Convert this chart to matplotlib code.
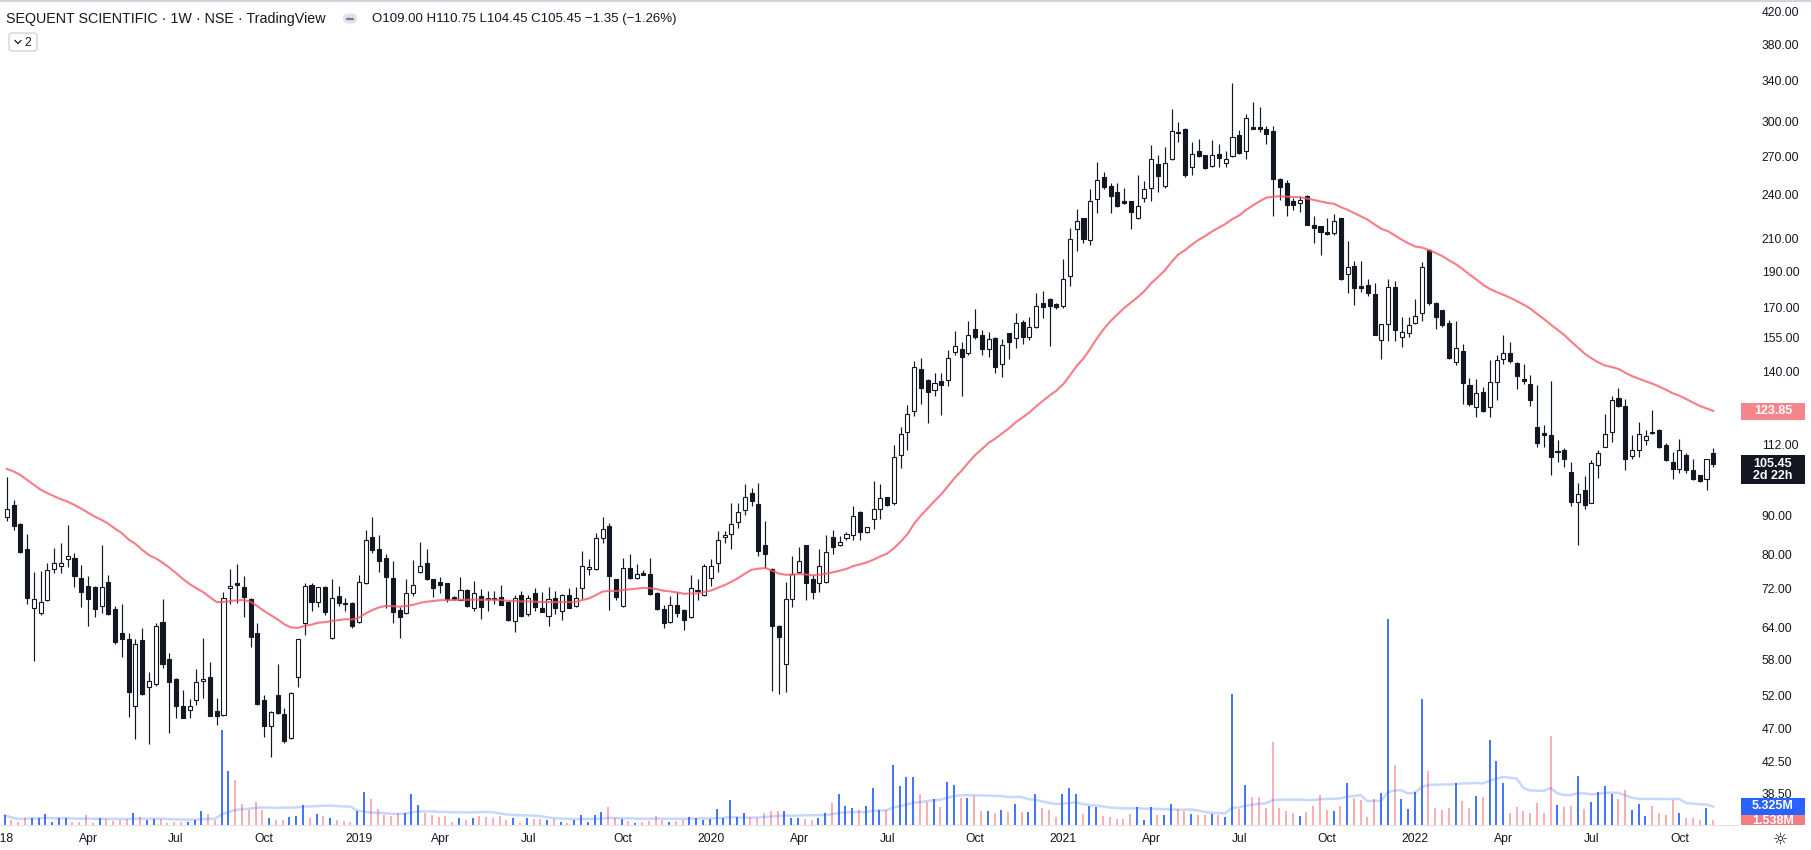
import numpy as np
import pandas as pd
import matplotlib
matplotlib.use('Agg')
import matplotlib.pyplot as plt
from matplotlib.patches import FancyBboxPatch, Rectangle
from matplotlib.ticker import NullLocator

plt.rcParams['font.family'] = ['Liberation Sans', 'DejaVu Sans']

# SEQUENT SCIENTIFIC, weekly bars (NSE), first bar = week of 1 Jan 2018
first_week = '2018-01-01'

opens = [89.7, 93.1, 87.9, 81.4, 67.9, 66.8, 69.5, 76.4, 77.2, 78.9,
         79.2, 74.4, 72.7, 72.4, 68.3, 73.6, 67.7, 62.9, 61.7, 50.4,
         61.6, 53.3, 53.8, 65.1, 58.1, 54.6, 50.3, 49.7, 51.3, 54.4,
         55.0, 49.6, 49.0, 72.2, 73.3, 72.4, 69.7, 62.9, 51.3, 47.4,
         52.1, 49.2, 45.6, 55.0, 64.8, 72.9, 69.2, 72.5, 61.9, 70.4,
         69.0, 69.0, 65.0, 73.3, 84.3, 81.4, 79.0, 74.4, 67.5, 66.8,
         71.2, 75.7, 77.8, 74.1, 73.6, 73.2, 70.3, 69.6, 71.7, 67.9,
         70.4, 70.1, 70.1, 70.2, 69.1, 65.3, 70.7, 66.7, 71.2, 67.9,
         66.2, 70.1, 67.3, 70.7, 68.4, 72.2, 76.4, 76.4, 84.0, 87.2,
         74.1, 68.3, 76.8, 74.4, 75.5, 75.3, 71.2, 67.6, 65.1, 68.5,
         67.4, 66.0, 71.6, 70.7, 74.4, 78.0, 84.3, 85.1, 88.4, 91.5,
         96.4, 93.4, 82.4, 76.4, 64.2, 57.2, 69.9, 75.8, 82.2, 74.1,
         73.2, 73.6, 84.3, 82.2, 84.0, 84.8, 91.0, 85.6, 89.1, 91.8,
         95.2, 93.7, 108.5, 116.3, 123.8, 141.1, 136.2, 132.1, 135.8, 136.2,
         148.6, 150.0, 147.8, 159.0, 156.5, 149.6, 155.1, 143.0, 157.1, 155.1,
         162.6, 155.6, 160.0, 172.5, 174.6, 172.0, 171.0, 187.2, 215.9, 223.3,
         209.1, 237.2, 253.1, 246.3, 241.7, 235.3, 235.3, 223.3, 237.9, 244.8,
         263.3, 246.3, 267.6, 291.0, 293.4, 261.3, 274.3, 270.7, 262.0, 271.6,
         264.4, 269.8, 288.0, 274.3, 294.8, 294.8, 293.4, 291.6, 252.0, 248.6,
         235.3, 233.8, 239.3, 218.8, 218.1, 214.1, 213.5, 223.3, 188.5, 192.9,
         181.7, 182.3, 177.1, 154.1, 161.7, 181.2, 155.2, 157.1, 162.1, 167.1,
         202.5, 172.5, 168.6, 162.1, 144.0, 149.0, 134.1, 125.4, 131.3, 125.4,
         135.4, 145.1, 148.2, 143.4, 136.6, 134.5, 118.0, 115.8, 115.1, 109.5,
         109.9, 102.8, 94.0, 97.3, 93.7, 105.1, 111.2, 116.3, 128.8, 126.0,
         107.9, 110.2, 113.3, 116.2, 116.9, 111.6, 106.2, 103.9, 108.5, 103.5,
         101.8, 100.6, 109.00]

highs = [101.2, 94.4, 88.0, 85.1, 75.8, 76.1, 77.8, 81.5, 82.8, 87.5,
         80.4, 77.4, 74.8, 72.6, 82.2, 75.2, 68.4, 68.7, 62.9, 61.7,
         63.9, 55.8, 64.8, 69.9, 59.1, 54.8, 52.8, 51.4, 56.4, 62.0,
         57.6, 51.6, 71.3, 76.4, 77.7, 74.8, 70.0, 64.8, 52.1, 49.6,
         57.3, 50.0, 52.5, 61.8, 73.3, 73.3, 72.4, 72.7, 74.1, 72.7,
         70.1, 69.2, 75.2, 86.2, 89.6, 84.8, 80.0, 78.5, 68.1, 74.2,
         78.6, 83.2, 81.2, 74.3, 74.6, 73.4, 70.5, 74.6, 71.9, 73.7,
         71.9, 71.5, 71.5, 72.8, 69.3, 70.7, 71.5, 70.7, 72.1, 71.3,
         72.5, 71.5, 70.9, 72.1, 72.5, 80.9, 78.8, 85.5, 89.6, 88.0,
         74.3, 79.2, 80.0, 77.6, 76.2, 79.0, 71.4, 68.5, 70.4, 71.3,
         67.6, 75.1, 74.1, 77.6, 78.8, 86.0, 86.0, 93.7, 93.7, 99.1,
         97.9, 99.4, 88.7, 76.8, 64.4, 73.6, 79.7, 81.7, 82.4, 75.1,
         81.2, 85.0, 86.1, 84.5, 85.6, 92.6, 91.2, 87.0, 100.0, 99.1,
         95.4, 111.6, 117.9, 126.2, 144.3, 145.8, 136.6, 139.1, 139.1, 149.2,
         158.2, 153.0, 163.1, 169.1, 158.7, 157.6, 155.3, 154.6, 157.3, 167.1,
         163.7, 165.3, 177.6, 179.0, 175.0, 172.3, 197.3, 216.9, 230.0, 223.8,
         244.0, 265.2, 257.0, 248.6, 248.6, 244.7, 235.6, 254.7, 250.4, 279.0,
         270.7, 277.6, 311.6, 299.4, 294.0, 281.8, 284.5, 271.0, 283.6, 280.1,
         274.0, 337.2, 292.5, 306.8, 318.3, 313.6, 295.7, 295.7, 252.3, 251.4,
         237.9, 239.3, 239.6, 225.1, 218.4, 223.8, 226.4, 223.6, 208.3, 195.9,
         195.9, 185.3, 183.1, 161.9, 185.3, 184.2, 165.3, 165.3, 174.6, 195.2,
         203.2, 172.8, 169.0, 163.7, 163.2, 152.1, 136.9, 136.6, 133.4, 144.9,
         147.1, 156.4, 153.0, 143.9, 143.0, 138.3, 134.1, 118.7, 135.7, 113.3,
         110.6, 106.0, 99.4, 101.5, 106.6, 109.9, 123.0, 129.6, 132.9, 128.4,
         115.1, 119.8, 116.9, 124.2, 117.3, 112.4, 109.3, 113.7, 108.9, 107.0,
         102.0, 107.2, 110.75]

lows = [88.6, 86.2, 80.3, 68.7, 57.8, 66.5, 69.3, 75.6, 75.6, 77.0,
        72.5, 68.2, 64.3, 66.1, 66.9, 66.4, 60.9, 58.4, 48.7, 45.5,
        52.0, 44.8, 53.5, 56.5, 46.4, 48.6, 48.5, 48.5, 50.5, 51.6,
        48.8, 47.5, 48.9, 68.7, 68.9, 66.0, 60.3, 50.5, 45.8, 43.1,
        49.2, 44.9, 45.5, 53.4, 62.5, 67.3, 68.2, 66.4, 61.7, 68.4,
        67.3, 63.9, 64.8, 73.1, 80.4, 75.7, 68.0, 64.9, 62.0, 66.6,
        70.5, 75.6, 74.0, 70.3, 71.0, 69.2, 69.5, 69.5, 68.2, 67.2,
        65.7, 67.3, 68.7, 68.5, 65.3, 63.2, 66.1, 66.3, 67.3, 67.0,
        64.3, 66.7, 65.5, 67.9, 68.2, 69.9, 75.2, 76.2, 82.7, 67.5,
        69.5, 68.1, 74.2, 74.3, 75.1, 70.7, 67.4, 63.9, 64.9, 66.1,
        63.4, 65.8, 69.5, 70.4, 72.7, 75.8, 82.7, 81.3, 86.7, 90.1,
        92.6, 79.5, 76.8, 52.7, 52.2, 52.5, 68.1, 75.6, 69.5, 69.9,
        71.4, 73.4, 80.2, 82.0, 83.5, 83.5, 83.7, 85.5, 86.4, 89.1,
        92.7, 92.9, 104.1, 110.2, 122.2, 126.7, 119.4, 129.6, 122.6, 133.7,
        147.3, 129.6, 147.3, 154.6, 147.3, 146.0, 139.1, 137.4, 145.1, 150.2,
        152.1, 153.9, 159.8, 164.6, 151.3, 169.1, 169.7, 181.7, 202.0, 207.0,
        205.9, 226.9, 244.0, 226.9, 231.2, 233.5, 215.9, 223.0, 234.5, 235.7,
        241.7, 244.7, 266.9, 281.8, 253.4, 255.1, 269.5, 259.8, 261.3, 261.3,
        261.3, 269.5, 271.6, 267.4, 293.0, 290.7, 280.1, 225.1, 236.5, 225.1,
        228.8, 227.3, 218.5, 207.0, 199.7, 212.2, 212.2, 184.8, 177.6, 171.6,
        178.2, 176.1, 156.2, 145.1, 153.6, 153.6, 150.7, 155.6, 161.9, 163.2,
        171.6, 159.3, 160.3, 145.1, 142.7, 126.7, 126.0, 121.6, 123.6, 121.6,
        128.2, 143.0, 143.4, 132.5, 134.5, 126.0, 110.9, 110.9, 101.8, 106.2,
        104.5, 92.6, 82.4, 91.8, 93.5, 100.9, 110.9, 112.6, 125.4, 103.5,
        107.0, 107.6, 111.6, 115.5, 110.8, 106.4, 100.6, 102.5, 102.5, 100.3,
        99.7, 97.3, 104.45]

closes = [91.8, 87.3, 80.6, 70.1, 69.9, 69.1, 76.2, 78.0, 78.0, 79.7,
          74.8, 71.4, 69.8, 67.8, 72.4, 66.6, 61.3, 61.7, 52.5, 60.9,
          52.2, 54.3, 64.3, 57.3, 54.2, 50.3, 48.6, 50.4, 54.1, 54.6,
          48.9, 48.8, 70.1, 72.7, 72.9, 70.3, 62.1, 50.7, 47.4, 49.5,
          49.3, 45.3, 52.4, 61.7, 72.6, 69.2, 72.3, 67.1, 70.1, 68.9,
          68.8, 64.3, 73.6, 83.5, 81.1, 78.5, 74.6, 67.0, 66.1, 71.2,
          72.8, 77.3, 74.2, 72.2, 72.9, 69.8, 69.8, 71.7, 68.4, 71.2,
          68.2, 69.7, 69.8, 68.6, 65.5, 70.1, 66.3, 70.1, 68.2, 67.1,
          69.9, 68.0, 70.7, 68.0, 70.1, 77.3, 77.0, 84.0, 86.4, 74.8,
          70.3, 76.8, 74.4, 75.3, 75.2, 70.9, 67.6, 64.9, 68.5, 66.8,
          65.5, 72.2, 71.8, 77.3, 77.3, 83.7, 84.8, 87.7, 91.0, 95.2,
          94.3, 80.9, 80.2, 64.2, 62.1, 69.9, 75.3, 78.5, 73.2, 71.4,
          77.3, 80.7, 81.7, 83.2, 85.1, 89.9, 85.6, 86.9, 91.8, 94.9,
          92.9, 107.6, 115.4, 123.0, 142.0, 132.9, 131.3, 134.9, 134.1, 145.8,
          151.3, 146.4, 156.4, 155.6, 149.6, 154.6, 142.0, 151.7, 152.9, 162.1,
          155.6, 160.0, 170.6, 170.1, 171.0, 170.1, 185.5, 209.8, 221.4, 209.5,
          235.3, 250.7, 245.4, 238.8, 231.9, 233.8, 227.6, 232.1, 244.0, 267.4,
          254.3, 264.4, 291.6, 289.8, 255.1, 271.6, 269.8, 260.5, 270.7, 268.2,
          267.6, 286.2, 272.7, 303.1, 293.6, 293.0, 289.1, 252.0, 245.4, 232.7,
          232.7, 236.0, 218.8, 216.8, 214.1, 212.9, 221.4, 185.3, 192.4, 180.6,
          180.6, 177.6, 156.4, 161.7, 181.2, 158.7, 157.6, 161.2, 165.8, 192.4,
          172.5, 165.3, 161.2, 145.8, 150.2, 134.9, 126.7, 130.8, 123.8, 135.4,
          144.9, 148.2, 144.4, 137.8, 136.0, 128.1, 112.4, 115.1, 107.6, 109.7,
          106.9, 94.0, 96.1, 92.9, 105.6, 108.9, 115.4, 128.1, 125.7, 107.2,
          110.2, 115.4, 114.7, 115.8, 110.9, 106.6, 103.7, 109.9, 103.5, 100.6,
          100.0, 107.0, 105.45]

# weekly volume, millions of shares
volumes = [2.8, 1.4, 0.9, 2.1, 2.0, 1.9, 3.1, 0.9, 2.0, 2.0,
           0.9, 0.9, 2.8, 0.7, 2.0, 1.6, 1.1, 1.4, 1.6, 3.5,
           2.3, 1.4, 1.6, 1.6, 0.7, 0.9, 0.9, 0.9, 1.4, 3.9,
           3.1, 1.4, 26.6, 15.1, 12.6, 5.9, 4.2, 6.4, 4.2, 2.1,
           1.4, 1.4, 2.3, 2.6, 5.6, 2.0, 3.0, 2.5, 2.1, 1.4,
           1.1, 0.9, 3.9, 9.3, 7.2, 4.4, 2.8, 2.6, 3.5, 3.5,
           8.7, 5.6, 3.5, 2.8, 2.3, 2.5, 0.9, 2.0, 1.4, 2.0,
           2.5, 2.3, 1.9, 2.5, 1.4, 2.0, 0.7, 2.0, 1.6, 1.6,
           1.4, 1.6, 0.9, 0.7, 1.4, 2.8, 0.9, 2.8, 3.6, 5.1,
           1.9, 1.6, 1.1, 0.7, 0.9, 1.1, 2.5, 1.4, 0.9, 1.1,
           1.4, 2.3, 1.9, 1.4, 1.6, 4.6, 2.1, 7.1, 2.3, 3.3,
           2.3, 2.1, 3.3, 3.9, 3.9, 3.9, 2.0, 1.9, 1.6, 1.4,
           1.9, 3.3, 6.3, 8.7, 5.3, 4.7, 4.2, 5.3, 10.3, 4.2,
           4.2, 16.8, 10.9, 13.4, 13.4, 8.7, 6.5, 7.3, 5.0, 12.0,
           11.2, 7.6, 7.6, 8.1, 3.9, 3.9, 3.4, 4.2, 3.6, 5.9,
           3.6, 3.6, 8.7, 4.8, 4.2, 2.2, 8.7, 10.4, 8.7, 3.1,
           5.3, 5.0, 2.5, 2.2, 1.7, 1.7, 3.1, 5.0, 1.4, 5.0,
           2.8, 2.8, 5.9, 4.5, 3.9, 3.1, 2.8, 2.8, 3.1, 2.8,
           2.2, 36.7, 4.5, 11.2, 7.8, 7.8, 4.8, 23.2, 4.8, 3.9,
           3.4, 2.5, 3.6, 5.3, 8.4, 4.2, 3.9, 5.3, 11.8, 7.6,
           7.0, 2.2, 7.3, 9.0, 57.7, 16.8, 7.3, 4.5, 9.2, 35.3,
           15.1, 4.8, 4.2, 4.8, 11.8, 6.7, 4.8, 8.1, 7.8, 23.8,
           17.9, 11.8, 3.4, 5.0, 3.9, 3.4, 6.2, 3.4, 24.9, 5.6,
           5.0, 5.3, 13.7, 4.5, 6.4, 9.2, 10.9, 8.7, 7.3, 9.8,
           4.2, 5.9, 2.5, 5.3, 3.4, 2.8, 7.0, 3.4, 2.0, 2.0,
           1.4, 4.8, 1.538]

price_ticks = [38.5, 42.5, 47, 52, 58, 64, 72, 80, 90, 112,
               140, 155, 170, 190, 210, 240, 270, 300, 340, 380, 420]

ema_len = 40
ema_seed = 104.5      # MA level carried in from before the first bar
vol_ma_len = 20

# ---------------------------------------------------------------------
o = np.array(opens); h = np.array(highs); l = np.array(lows); c = np.array(closes)
v = np.array(volumes)
n = len(c)
x = np.arange(n)
dates = pd.date_range(first_week, periods=n, freq='W-MON')
up = c >= o

ema = (pd.concat([pd.Series([ema_seed]), pd.Series(c)], ignore_index=True)
       .ewm(span=ema_len, adjust=False).mean().iloc[1:].to_numpy())
vol_ma = pd.Series(v).rolling(vol_ma_len, min_periods=1).mean().to_numpy()

W, H = 1811, 850
fig = plt.figure(figsize=(W / 100, H / 100), dpi=100)
fig.patch.set_facecolor('white')

plot_right = 1738
plot_bottom = 825
rect = [0, (H - plot_bottom) / H, plot_right / W, plot_bottom / H]
xlim = (-0.69, 255.65)

# volume pane (overlay, own scale)
axv = fig.add_axes(rect)
axv.set_xlim(*xlim)
axv.set_ylim(0, 231)
axv.axis('off')
vol_col = np.where(up, '#2962ff', '#f9a3aa')
axv.vlines(x, 0, v, colors=vol_col, linewidth=1.25)
axv.plot(x, vol_ma, color='#2962ff', alpha=0.25, lw=1.8)

# price pane
ax = fig.add_axes(rect)
ax.patch.set_alpha(0)
ax.set_xlim(*xlim)
ax.set_yscale('log')
ax.set_ylim(35.0, 435.0)

ax.vlines(x, l, h, colors='#131722', linewidth=0.85, zorder=2)
body_bot = np.minimum(o, c)
body_h = np.maximum(np.abs(c - o), 0.002 * c)
ax.bar(x, body_h, bottom=body_bot, width=0.6,
       color=np.where(up, 'white', '#131722'), edgecolor='#131722',
       linewidth=0.8, zorder=3)
ax.plot(x, ema, color='#f45b69', alpha=0.8, lw=1.5, zorder=4)

for s in ['top', 'left', 'right']:
    ax.spines[s].set_visible(False)
ax.spines['bottom'].set_color('#e0e3eb')

ax.yaxis.tick_right()
ax.yaxis.set_minor_locator(NullLocator())
ax.set_yticks(price_ticks)
ax.set_yticklabels(['%.2f' % t for t in price_ticks])
ax.tick_params(axis='y', length=0, pad=17, labelsize=8.7, labelcolor='#131722')

# time axis: first bar of each quarter month
tick_pos, tick_lab = [], []
for ms in pd.date_range('2018-01-01', '2022-10-01', freq='QS-JAN'):
    pos = int(np.ceil(((ms - pd.Timedelta(days=7)) - dates[0]).days / 7))
    tick_pos.append(pos)
    tick_lab.append(str(ms.year) if ms.month == 1 else ms.strftime('%b'))
ax.set_xticks(tick_pos)
ax.set_xticklabels(tick_lab)
ax.tick_params(axis='x', length=0, pad=6, labelsize=8.7, labelcolor='#131722')

# overlay in pixel coordinates for header and scale labels
axo = fig.add_axes([0, 0, 1, 1], zorder=10)
axo.set_xlim(0, W)
axo.set_ylim(H, 0)
axo.axis('off')
axo.patch.set_alpha(0)

axo.plot([0, W], [0.8, 0.8], color='#d1d4dc', lw=1.6)
axo.text(6, 18.5, 'SEQUENT SCIENTIFIC · 1W · NSE · TradingView', fontsize=10.3,
         color='#131722', va='center', ha='left')
axo.add_patch(FancyBboxPatch((343, 13.5), 14, 10, boxstyle='round,pad=0,rounding_size=5',
                             facecolor='#e0e3eb', edgecolor='none'))
axo.plot([347, 353], [18.5, 18.5], color='#787b86', lw=1.6, solid_capstyle='round')
axo.text(372, 18.5, 'O109.00 H110.75 L104.45 C105.45 \u22121.35 (\u22121.26%)',
         fontsize=9.5, color='#131722', va='center', ha='left')

axo.add_patch(FancyBboxPatch((9, 33), 28, 18, boxstyle='round,pad=0,rounding_size=3',
                             facecolor='white', edgecolor='#d1d4dc', lw=1))
axo.plot([15, 18, 21], [40.5, 43.5, 40.5], color='#131722', lw=0.9)
axo.text(27.5, 42.5, '2', fontsize=8.8, color='#131722', va='center', ha='center')

axo.text(1780, 840, '\u263c', fontsize=12, color='#131722', va='center', ha='center',
         family='DejaVu Sans')

# price scale labels (clipped to the scale column)
axp = fig.add_axes([plot_right / W, (H - plot_bottom) / H, (W - plot_right) / W, plot_bottom / H],
                   zorder=11)
axp.set_xlim(plot_right, W)
axp.set_ylim(plot_bottom, 0)
axp.axis('off')
axp.patch.set_alpha(0)


def label_box(y0, y1, color, lines, weight='normal'):
    axp.add_patch(Rectangle((1741, y0), 64, y1 - y0, facecolor=color, edgecolor='none',
                            clip_on=True))
    for ty, s in lines:
        axp.text(1773, ty, s, fontsize=9, color='white', va='center', ha='center',
                 fontweight=weight, clip_on=True)


def price_y(p):
    lo, hi = np.log(35.0), np.log(435.0)
    return plot_bottom * (hi - np.log(p)) / (hi - lo)


y_ma = price_y(123.85)
label_box(y_ma - 8.5, y_ma + 8.5, '#f7868c', [(y_ma, '123.85')], 'bold')
y_last = price_y(closes[-1])
label_box(y_last - 9, y_last + 20, '#131722', [(y_last, '105.45'), (y_last + 12.5, '2d 22h')], 'bold')
label_box(813, 830, '#f77c80', [(821, '1.538M')], 'bold')
label_box(798, 814.5, '#2962ff', [(806, '5.325M')], 'bold')

fig.savefig('out.png', dpi=100)
